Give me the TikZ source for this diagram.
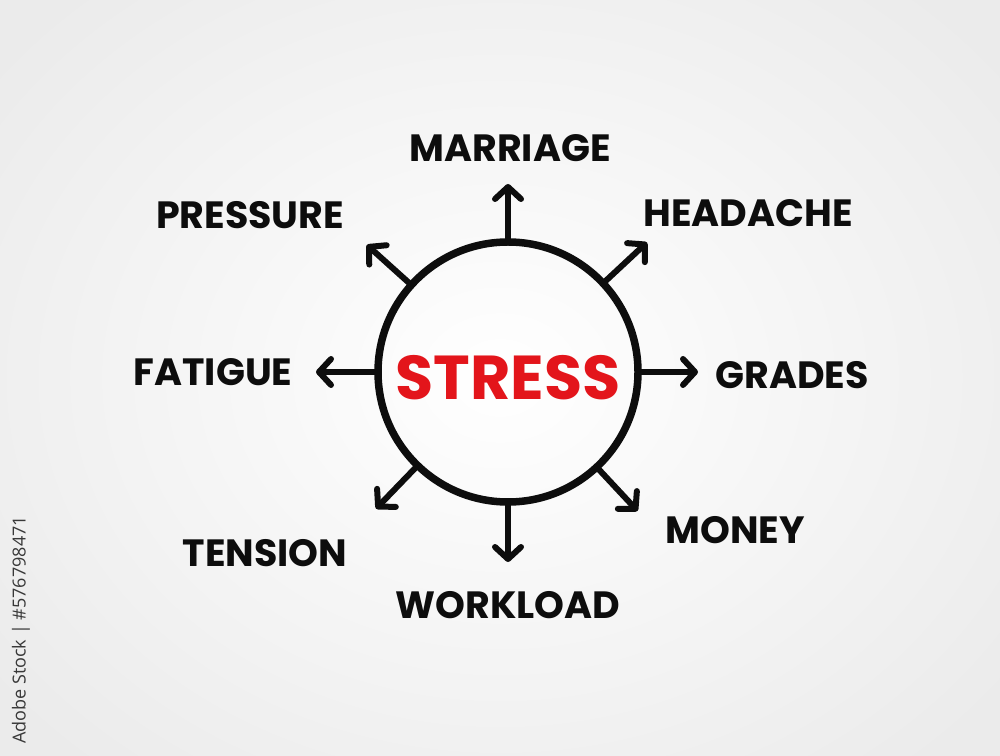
\documentclass[tikz,border=0pt]{standalone}
\usepackage{fontspec}
\usetikzlibrary{arrows.meta}
\newfontfamily\hand{Poppins}
\newfontfamily\wmfont{Open Sans}
\definecolor{stressred}{HTML}{E3151B}
\definecolor{ink}{HTML}{0D0D0D}
\tikzset{
  label/.style={font=\hand\bfseries\fontsize{38}{44}\selectfont, text=ink, inner sep=0pt},
  hub/.style={circle, draw=ink, line width=7.5pt, minimum size=260pt, inner sep=0pt},
  arr/.style={draw=ink, line width=6pt, line cap=round, -{Straight Barb[length=12pt, width=26pt, line width=6pt, round]}},
}
\begin{document}
\begin{tikzpicture}[x=1pt, y=1pt]
\useasboundingbox (0,0) rectangle (1000,755);
\fill[inner color=white, outer color=gray!16] (-150,-150) rectangle (1150,905);
\node[hub] (c) at (508,383) {};
\node[font=\hand\bfseries\fontsize{62}{68}\selectfont, text=stressred, inner sep=0pt] (stress) at (508,377) {STRESS};
% free ends of the arrows
\path (c.center) ++(90:188) coordinate (eN);
\path (c.center) ++(43:190) coordinate (eNE);
\path (c.center) ++(0:190) coordinate (eE);
\path (c.center) ++(-47:190) coordinate (eSE);
\path (c.center) ++(-90:190) coordinate (eS);
\path (c.center) ++(-134:190) coordinate (eSW);
\path (c.center) ++(180:192) coordinate (eW);
\path (c.center) ++(138:190) coordinate (eNW);
\draw[arr] (c.90) -- (eN);
\draw[arr] (c.43) -- (eNE);
\draw[arr] (c.0) -- (eE);
\draw[arr] (c.-47) -- (eSE);
\draw[arr] (c.-90) -- (eS);
\draw[arr] (c.-134) -- (eSW);
\draw[arr] (c.180) -- (eW);
\draw[arr] (c.138) -- (eNW);
% labels
\node[label] (marriage) at (510,607) {MARRIAGE};
\node[label] (pressure) at (250,540) {PRESSURE};
\node[label] (headache) at (748,542) {HEADACHE};
\node[label] (fatigue) at (213,383) {FATIGUE};
\node[label] (grades) at (792,380) {GRADES};
\node[label] (money) at (735,225) {MONEY};
\node[label] (tension) at (265,202) {TENSION};
\node[label] (workload) at (508,150) {WORKLOAD};
% vertical stock note
\node[font=\wmfont\fontsize{18}{20}\selectfont, text=black!78, rotate=90, inner sep=0pt] (wm) at (21,125) {Adobe Stock | \#576798471};
\end{tikzpicture}
\end{document}
